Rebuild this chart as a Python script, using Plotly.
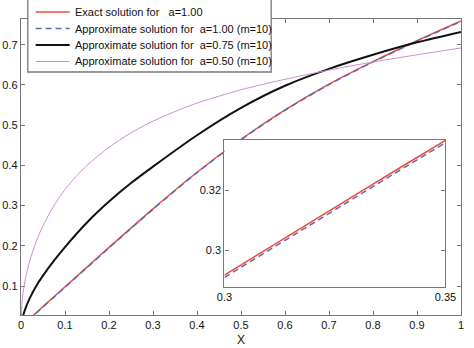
import plotly.graph_objects as go

# ---- data ----
x_a100 = [0.0, 0.02, 0.05, 0.1, 0.15, 0.2, 0.3, 0.4, 0.5, 0.6, 0.7, 0.8, 0.9, 1.0]
exact_a100 = [0.0, 0.019, 0.049, 0.098, 0.147, 0.196, 0.292, 0.383, 0.465, 0.538, 0.602, 0.658, 0.710, 0.759]
approx_a100 = [-0.001, 0.018, 0.048, 0.097, 0.146, 0.195, 0.291, 0.382, 0.464, 0.537, 0.601, 0.657, 0.709, 0.758]

x_a075 = [0.0, 0.005, 0.01, 0.02, 0.035, 0.05, 0.075, 0.1, 0.15, 0.2, 0.25, 0.3, 0.4, 0.5, 0.6, 0.7, 0.8, 0.9, 1.0]
approx_a075 = [0.0, 0.027, 0.044, 0.07, 0.101, 0.126, 0.163, 0.197, 0.258, 0.31, 0.356, 0.397, 0.475, 0.543, 0.598, 0.640, 0.675, 0.706, 0.732]

x_a050 = [0.0, 0.0025, 0.005, 0.01, 0.02, 0.035, 0.05, 0.075, 0.1, 0.125, 0.15, 0.2, 0.25, 0.3, 0.35, 0.4, 0.5, 0.6, 0.7, 0.8, 0.9, 1.0]
approx_a050 = [0.0, 0.06, 0.085, 0.118, 0.163, 0.212, 0.25, 0.30, 0.34, 0.372, 0.400, 0.445, 0.481, 0.510, 0.534, 0.555, 0.588, 0.614, 0.637, 0.657, 0.675, 0.692]

inset_x = [0.30, 0.31, 0.32, 0.33, 0.34, 0.35]
inset_exact = [0.2917, 0.3008, 0.3098, 0.3188, 0.3278, 0.3367]
inset_approx = [0.2909, 0.3000, 0.3090, 0.3180, 0.3270, 0.3359]

names = [
    "Exact solution for\u00a0\u00a0 a=1.00",
    "Approximate solution for\u00a0\u00a0a=1.00 (m=10)",
    "Approximate solution for\u00a0\u00a0a=0.75 (m=10)",
    "Approximate solution for\u00a0\u00a0a=0.50 (m=10)",
]
main_xticks = [0, 0.1, 0.2, 0.3, 0.4, 0.5, 0.6, 0.7, 0.8, 0.9, 1]
main_xlabels = ["0", "0.1", "0.2", "0.3", "0.4", "0.5", "0.6", "0.7", "0.8", "0.9", "1"]
main_yticks = [0.1, 0.2, 0.3, 0.4, 0.5, 0.6, 0.7]
inset_xticks = [0.3, 0.35]
inset_yticks = [0.3, 0.32]

RED = "#f04a36"
BLUE = "#5d6cb3"
BLACK = "#111111"
PINK = "#c992cf"
AX = "#777777"
TXT = "#111111"
FONT = "Liberation Sans, Arial, sans-serif"

W, H = 474, 348
ML, MR, MT, MB = 20, 2, 19, 33
PW, PH = W - ML - MR, H - MT - MB


def px_x(px):
    return (px - ML) / PW


def px_y(py):
    return (H - MB - py) / PH


styles = [
    dict(color=RED, width=1.5, dash="solid"),
    dict(color=BLUE, width=1.5, dash="6px,4px"),
    dict(color=BLACK, width=2, dash="solid"),
    dict(color=PINK, width=1, dash="solid"),
]

fig = go.Figure()
series = [(x_a100, exact_a100), (x_a100, approx_a100), (x_a075, approx_a075), (x_a050, approx_a050)]
for (xs, ys), st, nm in zip(series, styles, names):
    fig.add_trace(go.Scatter(x=xs, y=ys, mode="lines", name=nm, showlegend=False,
                             line=dict(shape="spline", smoothing=0.8, **st)))

fig.add_trace(go.Scatter(x=inset_x, y=inset_exact, mode="lines", showlegend=False,
                         xaxis="x2", yaxis="y2", line=styles[0]))
fig.add_trace(go.Scatter(x=inset_x, y=inset_approx, mode="lines", showlegend=False,
                         xaxis="x2", yaxis="y2", line=styles[1]))

# ---- legend drawn as a box with sample lines and texts ----
shapes = [dict(type="rect", xref="paper", yref="paper",
               x0=px_x(27), x1=px_x(277), y0=px_y(72), y1=px_y(-1),
               fillcolor="white", line=dict(color=AX, width=1.3), layer="above")]
annotations = []
row_y = [12, 28.5, 45, 61.5]
for ry, st, nm in zip(row_y, styles, names):
    shapes.append(dict(type="line", xref="paper", yref="paper",
                       x0=px_x(35), x1=px_x(70), y0=px_y(ry), y1=px_y(ry),
                       line=st, layer="above"))
    annotations.append(dict(xref="paper", yref="paper", x=px_x(73), y=px_y(ry),
                            xanchor="left", yanchor="middle", text=nm, showarrow=False,
                            font=dict(family=FONT, size=11, color=TXT)))

axis_common = dict(showgrid=False, zeroline=False, showline=True, linecolor=AX, linewidth=1.3,
                   mirror="ticks", ticks="inside", ticklen=4, tickcolor=AX,
                   tickfont=dict(family=FONT, size=11, color=TXT))

fig.update_layout(
    width=W, height=H,
    margin=dict(l=ML, r=MR, t=MT, b=MB),
    paper_bgcolor="white", plot_bgcolor="white",
    font=dict(family=FONT, size=11, color=TXT),
    xaxis=dict(range=[0, 1], tickvals=main_xticks, ticktext=main_xlabels,
               title=dict(text="X", standoff=5, font=dict(family=FONT, size=12, color=TXT)),
               domain=[0, 1], **axis_common),
    yaxis=dict(range=[0.028, 0.764], tickvals=main_yticks, domain=[0, 1], **axis_common),
    xaxis2=dict(range=[0.3, 0.35], tickvals=inset_xticks, ticktext=["0.3", "0.35"],
                domain=[0.4624, 0.9646], anchor="y2", **axis_common),
    yaxis2=dict(range=[0.2877, 0.3368], tickvals=inset_yticks, ticktext=["0.3", "0.32"],
                domain=[0.0946, 0.591], anchor="x2", **axis_common),
    showlegend=False,
    shapes=shapes,
    annotations=annotations,
)

fig.write_html("out.html")
